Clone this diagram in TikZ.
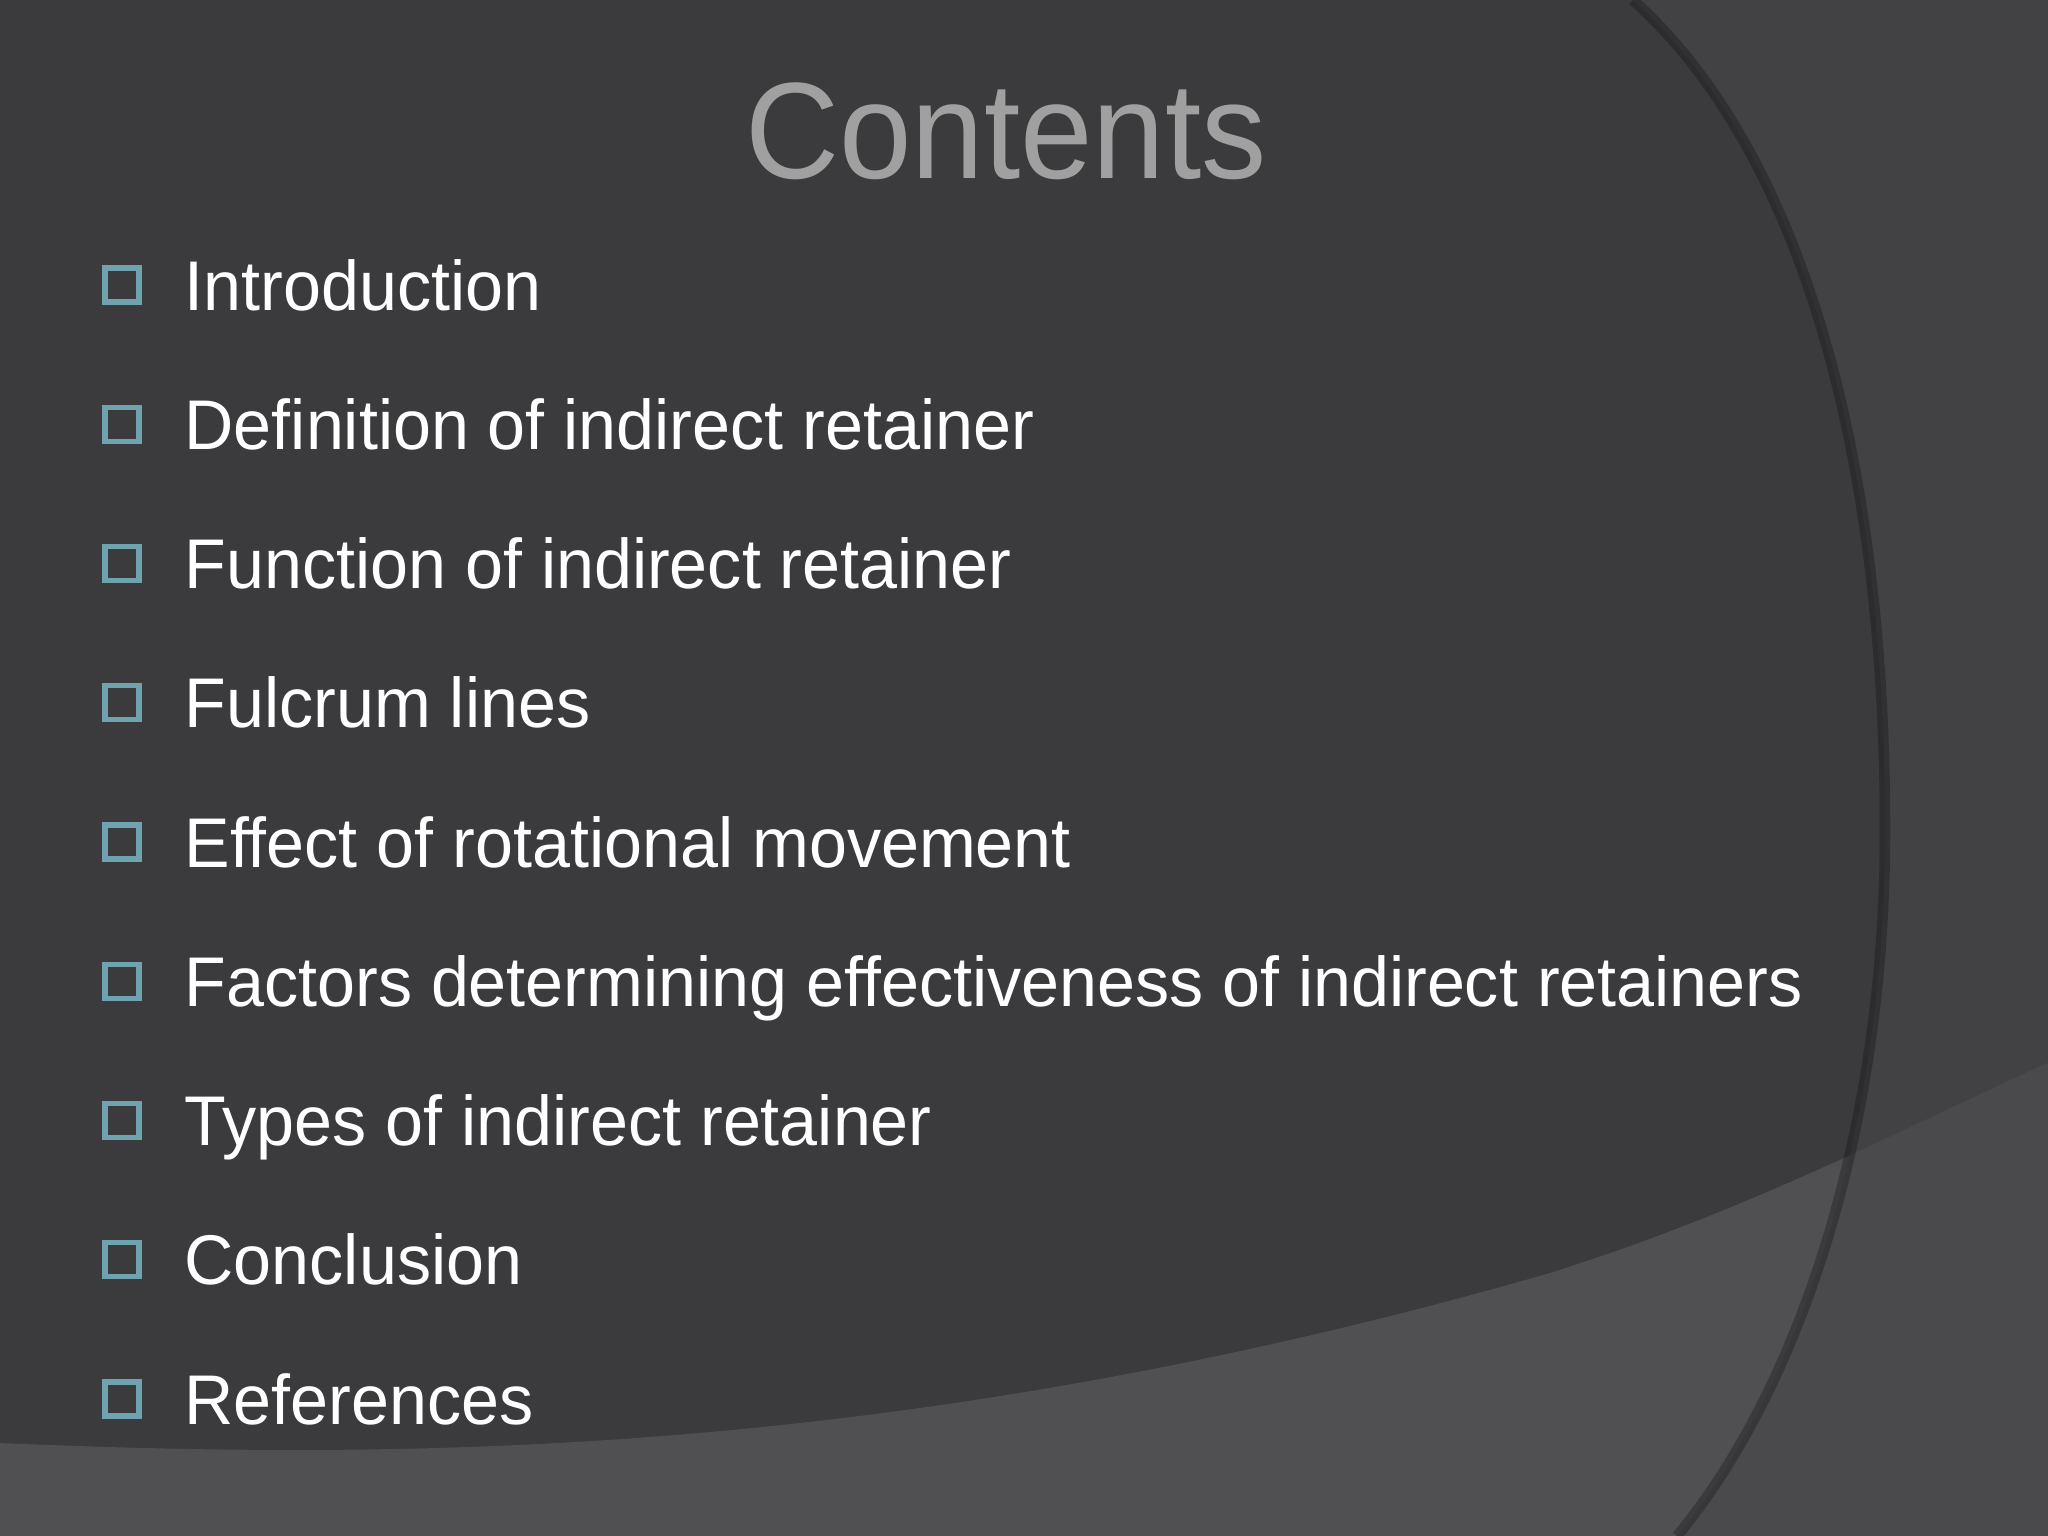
\documentclass[tikz,border=0pt]{standalone}
\usepackage{fontspec}
\setmainfont{Liberation Sans}
\definecolor{bgmain}{HTML}{3B3A3D}
\definecolor{bgright}{HTML}{424244}
\definecolor{bgbot}{HTML}{505052}
\definecolor{bgbotr}{HTML}{4A494C}
\definecolor{teal}{HTML}{6FA3B0}
\definecolor{titlegray}{HTML}{A0A0A0}
\begin{document}
\begin{tikzpicture}[x=0.01cm,y=-0.01cm,
  item/.style={anchor=base west,inner sep=0,text=white,font=\fontsize{20}{24}\selectfont},
  bul/.style={draw=teal,line width=1.5pt,fill=none}]
\useasboundingbox (0,0) rectangle (2048,1536);
\fill[bgmain] (0,0) rectangle (2048,1536);
\def\arcpath{(1633,0) .. controls (1800,150) and (1885,450) .. (1885,830)
  .. controls (1885,1150) and (1790,1400) .. (1677,1536)}
\fill[bgright] \arcpath -- (2048,1536) -- (2048,0) -- cycle;
\def\botpath{(0,1443) .. controls (400,1460) and (900,1460) .. (1550,1273)
  .. controls (1750,1210) and (1900,1130) .. (2048,1063) -- (2048,1536) -- (0,1536) -- cycle}
\fill[bgbot] \botpath;
\begin{scope}
\clip \arcpath -- (2048,1536) -- (2048,0) -- cycle;
\fill[bgbotr] \botpath;
\end{scope}
\draw[black,opacity=0.25,line width=3] \arcpath;
\node[anchor=center,text=titlegray,inner sep=0] (title) at (1006,131)
  {\scalebox{0.95}[1]{\fontsize{39}{44}\selectfont Contents}};
\foreach \t [count=\i from 0] in {Introduction,Definition of indirect retainer,Function of indirect retainer,Fulcrum lines,Effect of rotational movement,Factors determining effectiveness of indirect retainers,Types of indirect retainer,Conclusion,References}{
  \pgfmathsetmacro\yy{285+\i*139.25}
  \draw[bul] (105,\yy-17) rectangle (139,\yy+17);
  \node[item] (t\i) at (184,\yy+25) {\scalebox{0.97}[1]{\t}};
}
\end{tikzpicture}
\end{document}
